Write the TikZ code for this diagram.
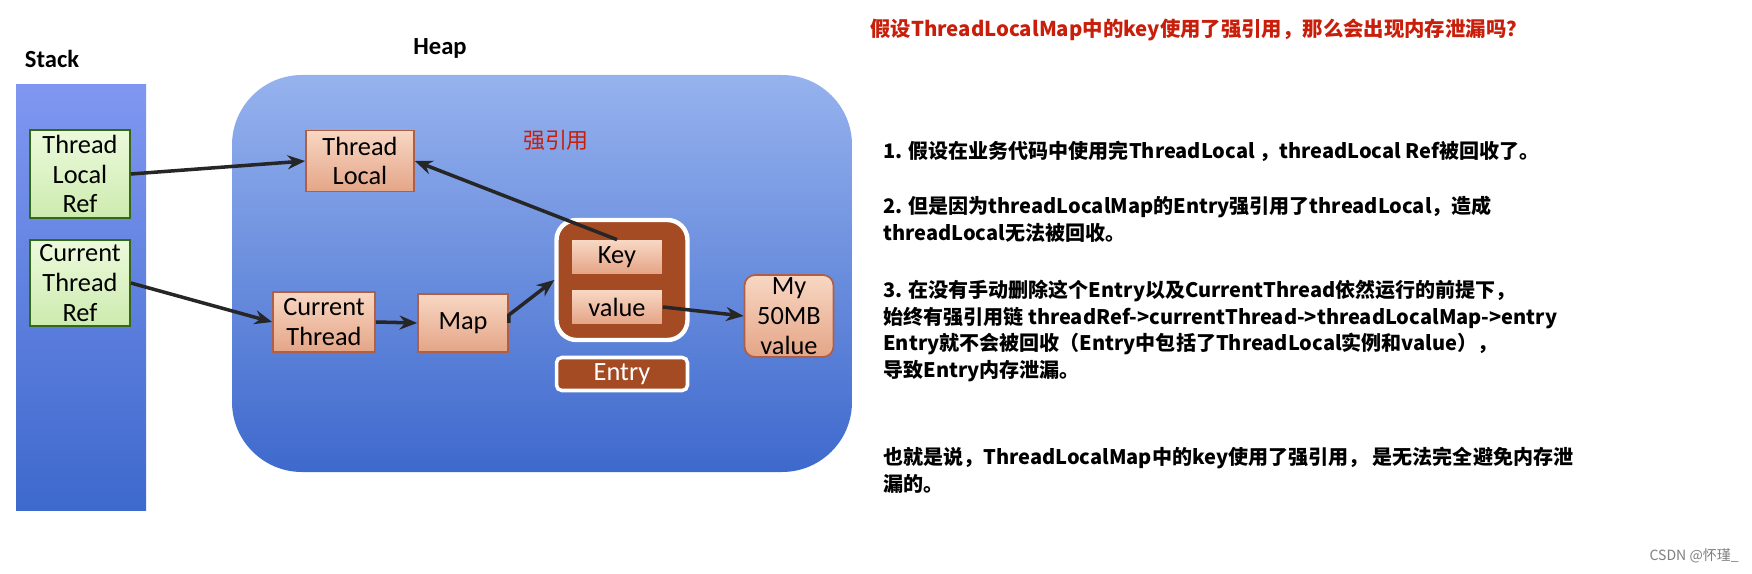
\documentclass[tikz,border=0pt]{standalone}
\usepackage{fontspec}
\setmainfont{Carlito}
\newfontfamily\cjk{Noto Sans CJK SC}
\usetikzlibrary{arrows.meta}
\definecolor{heaptop}{RGB}{150,178,238}
\definecolor{heapbot}{RGB}{62,105,205}
\definecolor{salA}{RGB}{248,215,195}
\definecolor{salB}{RGB}{228,165,135}
\definecolor{salD}{RGB}{175,95,70}
\definecolor{grA}{RGB}{236,250,220}
\definecolor{grB}{RGB}{205,235,175}
\definecolor{brownc}{RGB}{165,75,35}
\definecolor{tred}{RGB}{200,30,10}
\tikzset{
 salbox/.style={draw=salD,line width=1pt,top color=salA,bottom color=salB,align=center,font=\fontsize{15}{17}\selectfont,inner sep=0pt},
 grbox/.style={draw=salD!50!green!60!black,line width=1pt,top color=grA,bottom color=grB,align=center,font=\fontsize{15}{17}\selectfont,inner sep=0pt},
 arr/.style={-{Stealth[length=10pt,width=8pt]},line width=2pt,black!85},
 rt/.style={anchor=west,font=\cjk\bfseries\fontsize{11.4}{15.3}\selectfont,align=left,inner sep=0pt}
}
\begin{document}
\begin{tikzpicture}[x=0.02cm,y=-0.02cm]
\useasboundingbox (0,0) rectangle (1752,574);
\fill[white] (0,0) rectangle (1752,574);
\node[font=\bfseries\fontsize{14}{15}\selectfont] (stk) at (52,59) {Stack};
\node[font=\bfseries\fontsize{14}{15}\selectfont] (hp) at (440,48) {Heap};
\shade[top color=heaptop!85!blue,bottom color=heapbot] (16,85) rectangle (146,510);
\shade[top color=heaptop,bottom color=heapbot,rounded corners=1.4cm] (232,75) rectangle (852,472);
\node[grbox,minimum width=2cm,minimum height=1.76cm] (tlr) at (80,174) {Thread\\Local\\Ref};
\node[grbox,minimum width=2cm,minimum height=1.72cm] (ctr) at (80,283) {Current\\Thread\\Ref};
\node[salbox,minimum width=2.16cm,minimum height=1.22cm] (tl) at (360,161) {Thread\\Local};
\node[salbox,minimum width=2.04cm,minimum height=1.2cm] (ct) at (324,322) {Current\\Thread};
\node[salbox,minimum width=1.8cm,minimum height=1.16cm] (map) at (463,323) {Map};
\node[draw=white,line width=2.5pt,fill=brownc,rounded corners=0.4cm,minimum width=2.62cm,minimum height=2.4cm] (ent) at (622,280) {};
\node[salbox,draw=none,minimum width=1.8cm,minimum height=0.66cm] (key) at (617,257) {Key};
\node[salbox,draw=none,minimum width=1.8cm,minimum height=0.66cm] (val) at (617,307) {value};
\node[draw=white,line width=2pt,fill=brownc,rounded corners=3pt,minimum width=2.62cm,minimum height=0.66cm,text=white,font=\fontsize{15}{17}\selectfont,inner sep=0pt] (elbl) at (622,374) {Entry};
\node[salbox,rounded corners=6pt,minimum width=1.78cm,minimum height=1.64cm] (my) at (789,316) {My\\50MB\\value};
\node[text=tred,font=\cjk\fontsize{12.5}{14}\selectfont] (qy) at (556,140) {强引用};
\draw[arr] (tlr.east) -- (tl.west);
\draw[arr] (ctr.east) -- (ct.west);
\draw[arr] (ct.east) -- (map.west);
\draw[arr] (map.east) -- ++(0,-8) -- (ent.west);
\draw[arr] (key.north) -- (tl.east);
\draw[arr] (val.east) -- (my.west);
\node[rt,text=tred,font=\cjk\bfseries\fontsize{11.6}{15}\selectfont] (t0) at (870,30) {假设ThreadLocalMap中的key使用了强引用，那么会出现内存泄漏吗？};
\node[rt] (t1) at (883,151) {1. 假设在业务代码中使用完ThreadLocal ，threadLocal Ref被回收了。};
\node[rt] (t2) at (883,219) {2. 但是因为threadLocalMap的Entry强引用了threadLocal，造成\\threadLocal无法被回收。};
\node[rt] (t3) at (883,331) {3. 在没有手动删除这个Entry以及CurrentThread依然运行的前提下，\\始终有强引用链 threadRef->currentThread->threadLocalMap->entry\\Entry就不会被回收（Entry中包括了ThreadLocal实例和value），\\导致Entry内存泄漏。};
\node[rt] (t4) at (883,470) {也就是说，ThreadLocalMap中的key使用了强引用， 是无法完全避免内存泄\\漏的。};
\node[anchor=east,text=gray,font=\cjk\fontsize{8}{9}\selectfont] (wm) at (1745,556) {CSDN @怀瑾\_};
\end{tikzpicture}
\end{document}
